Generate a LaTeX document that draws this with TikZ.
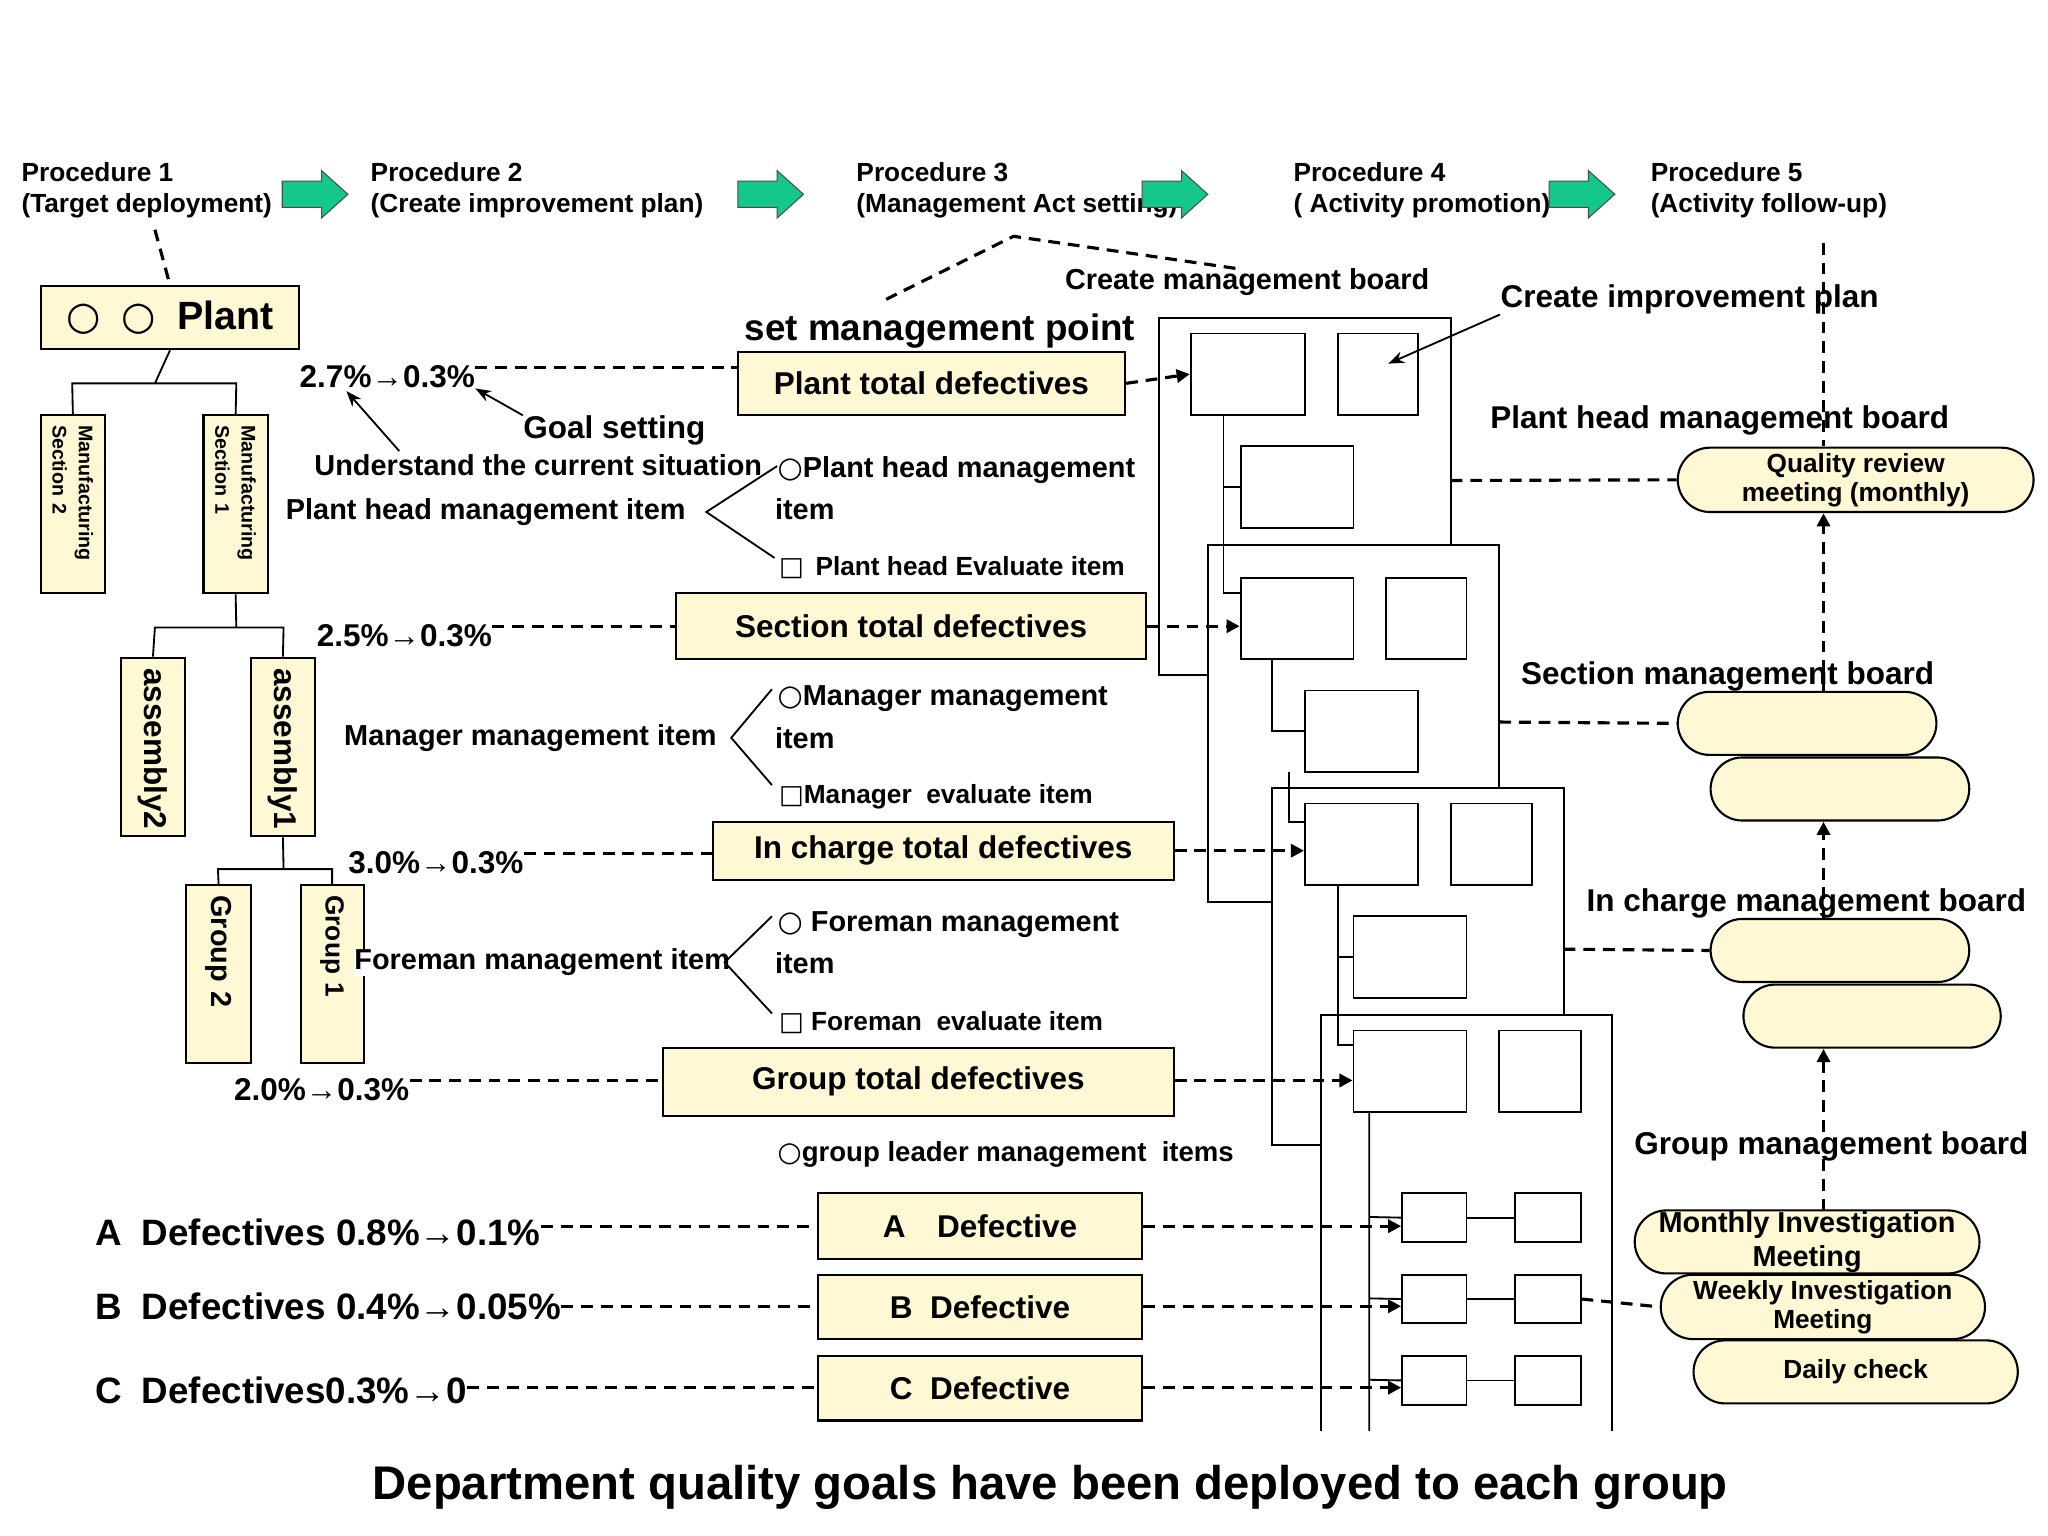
\documentclass[tikz,border=0pt]{standalone}
\usepackage{fontspec}
\setmainfont{Liberation Sans}
\newfontfamily\sym{DejaVu Sans}
\usetikzlibrary{arrows.meta,shapes.misc,calc}
\newcommand\bx[7]{\node[#6,minimum width={(#4-#2)*0.5pt},minimum height={(#5-#3)*0.5pt}] (#1) at ({(#2+#4)/2},{(#3+#5)/2}) {#7};}
\newcommand\bxr[7]{\node[#6,rotate=-90,minimum height={(#4-#2)*0.5pt},minimum width={(#5-#3)*0.5pt},text width={(#5-#3)*0.5pt-8pt}] (#1) at ({(#2+#4)/2},{(#3+#5)/2}) {#7};}
\newcommand\ci{{\sym\char"25CB}}
\newcommand\sq{{\sym\char"25A1}}
\definecolor{cream}{RGB}{255,248,212}
\definecolor{grn}{RGB}{20,200,140}
\tikzset{
 box/.style={draw,line width=0.8pt,fill=cream,inner sep=0pt,font=\bfseries\fontsize{12}{14}\selectfont},
 wb/.style={draw,line width=0.7pt,fill=white,inner sep=0pt},
 rb/.style={draw,line width=0.8pt,fill=cream,rounded rectangle,inner sep=0pt,align=center,font=\bfseries\fontsize{10}{11}\selectfont},
 txt/.style={inner sep=0pt,font=\bfseries\fontsize{11}{13}\selectfont,align=left},
 dsh/.style={dashed,dash pattern=on 4.5pt off 3pt,line width=1.2pt},
 arr/.style={-{Triangle[length=5pt,width=5pt]}},
 ln/.style={line width=0.7pt},
 garrow/.style={fill=grn,draw=black!70,line width=0.4pt}
}
\begin{document}
\begin{tikzpicture}[x=0.5pt,y=-0.5pt]
\useasboundingbox (0,0) rectangle (1560,1170);
% procedures
\foreach \x/\a/\b in {16/Procedure 1/(Target deployment),282/Procedure 2/(Create improvement plan),652/Procedure 3/(Management Act setting),985/Procedure 4/( Activity promotion),1257/Procedure 5/(Activity follow-up)}{
 \node[anchor=west,inner sep=0pt,font=\bfseries\fontsize{10}{12}\selectfont] at (\x,131) {\a};
 \node[anchor=west,inner sep=0pt,font=\bfseries\fontsize{10}{12}\selectfont] at (\x,157) {\b};}
\foreach \x in {215,562,870,1180}{
 \draw[garrow] (\x,138) -- (\x+30,138) -- (\x+30,130) -- (\x+50,148) -- (\x+30,166) -- (\x+30,158) -- (\x,158) -- cycle;}
% tree
\bx{plant}{31}{218}{228}{266}{box,font=\bfseries\fontsize{15}{17}\selectfont}{{\sym\char"25CB}\hspace{8pt}{\sym\char"25CB}\hspace{8pt}Plant}
\coordinate (pt) at (118,175);
\draw[dsh] (pt) -- (plant.north);
\bxr{s2}{31}{316}{80}{452}{box,font=\bfseries\fontsize{7.5}{10}\selectfont,align=left}{Manufacturing\\Section 2}
\bxr{s1}{155}{316}{204}{452}{box,font=\bfseries\fontsize{7.5}{10}\selectfont,align=left}{Manufacturing\\Section 1}
\draw[ln] (plant.south) -- (118,292) (s2.west) -- (55,292) -- (180,292) -- (s1.west);
\bxr{a2}{92}{501}{141}{637}{box,font=\bfseries\fontsize{12}{14}\selectfont,align=left}{assembly2}
\bxr{a1}{191}{501}{240}{637}{box,font=\bfseries\fontsize{12}{14}\selectfont,align=left}{assembly1}
\draw[ln] (s1.east) -- (180,478) (a2.west) -- (118,478) -- (216,478) -- (a1.west);
\bxr{g2}{142}{674}{191}{810}{box,font=\bfseries\fontsize{11}{14}\selectfont,align=left}{Group 2}
\bxr{g1}{229}{674}{277}{810}{box,font=\bfseries\fontsize{10}{14}\selectfont,align=left}{Group 1}
\draw[ln] (a1.east) -- (216,662) (g2.west) -- (166,662) -- (253,662) -- (g1.west);
% left texts
\tikzset{pc/.style={inner sep=0pt,font=\bfseries\fontsize{12}{14}\selectfont}}
\node[pc] (p1) at (295,287) {2.7\%→0.3\%};
\node[pc] (p2) at (308,484) {2.5\%→0.3\%};
\node[pc] (p3) at (332,657) {3.0\%→0.3\%};
\node[pc] (p4) at (245,830) {2.0\%→0.3\%};
\node[txt,font=\bfseries\fontsize{12}{14}\selectfont] (goal) at (468,328) {Goal setting};
\node[txt] (und) at (410,354) {Understand the current situation};
\draw[ln,-{Stealth[length=6pt]}] (goal.north west) -- (p1.south east);
\draw[ln,-{Stealth[length=6pt]}] ($(und.north west)+(65,-2)$) -- ($(p1.south west)+(36,2)$);
\node[txt] (phi) at (370,390) {Plant head management item};
\node[txt] (mmi) at (404,562) {Manager management item};
\node[txt,fill=white] (fmi) at (413,733) {Foreman management item};
\node[txt,anchor=west] (c1) at (592,358) {\ci Plant head management};
\node[txt,anchor=west] at (590,388) {item};
\node[txt,anchor=west,font=\bfseries\fontsize{10}{12}\selectfont] (e1) at (593,432) {\sq\, Plant head Evaluate item};
\node[txt,anchor=west] (c2) at (592,532) {\ci Manager management};
\node[txt,anchor=west] at (590,562) {item};
\node[txt,anchor=west,font=\bfseries\fontsize{10}{12}\selectfont] (e2) at (593,607) {\sq Manager\ \ evaluate item};
\node[txt,anchor=west] (c3) at (592,704) {\ci\ Foreman management};
\node[txt,anchor=west] at (590,734) {item};
\node[txt,anchor=west,font=\bfseries\fontsize{10}{12}\selectfont] (e3) at (593,779) {\sq\ Foreman\ \ evaluate item};
\node[txt,anchor=west,font=\bfseries\fontsize{10.5}{12}\selectfont] (c4) at (592,879) {\ci group leader management\ \ items};
\draw[ln] (592,355) -- (538,390) -- (590,425);
\draw[ln] (588,525) -- (557,562) -- (588,598);
\draw[ln] (588,698) -- (552,733) -- (588,772);
% center boxes
\bx{ptd}{562}{268}{857}{316}{box}{Plant total defectives}
\bx{std}{515}{452}{873}{502}{box}{Section total defectives}
\bx{ctd}{543}{626}{894}{670}{box}{In charge total defectives}
\bx{gtd}{505}{798}{894}{850}{box}{Group total defectives}
\bx{ad}{623}{909}{870}{959}{box}{A\quad Defective}
\bx{bd}{623}{971}{870}{1020}{box}{B\ \ Defective}
\bx{cd}{623}{1033}{870}{1082}{box}{C\ \ Defective}
\node[txt,font=\bfseries\fontsize{14}{16}\selectfont] (smp) at (716,252) {set management point};
\node[txt] (cmb) at (950,215) {Create management board};
\draw[dsh] (675,228) -- (772,180) -- (945,205);
\node[txt,font=\bfseries\fontsize{14}{16}\selectfont,anchor=west] (la) at (72,939) {A\ \ Defectives 0.8\%→0.1\%};
\node[txt,font=\bfseries\fontsize{14}{16}\selectfont,anchor=west] (lb) at (72,995) {B\ \ Defectives 0.4\%→0.05\%};
\node[txt,font=\bfseries\fontsize{14}{16}\selectfont,anchor=west] (lc) at (72,1059) {C\ \ Defectives0.3\%→0};
% boards
\draw[wb] (883,242) rectangle (1105,514);
\bx{b1a}{907}{254}{994}{316}{wb}{}
\bx{b1b}{1019}{254}{1080}{316}{wb}{}
\bx{b1c}{945}{340}{1031}{402}{wb}{}
\draw[wb] (920,415) rectangle (1142,687);
\bx{b2a}{945}{440}{1031}{502}{wb}{}
\bx{b2b}{1056}{440}{1117}{502}{wb}{}
\bx{b2c}{994}{526}{1080}{588}{wb}{}
\draw[ln] (932,316) -- (932,452) -- (945,452) (932,371) -- (945,371);
\draw[wb] (969,600) rectangle (1191,872);
\bx{b3a}{994}{612}{1080}{674}{wb}{}
\bx{b3b}{1105}{612}{1167}{674}{wb}{}
\bx{b3c}{1031}{698}{1117}{760}{wb}{}
\draw[ln] (969,502) -- (969,557) -- (994,557) (982,588) -- (982,626) -- (994,626);
\fill[white] (1006,773) rectangle (1228,1090);
\draw[ln] (1006,1090) -- (1006,773) -- (1228,773) -- (1228,1090);
\bx{b4a}{1031}{785}{1117}{847}{wb}{}
\bx{b4b}{1142}{785}{1204}{847}{wb}{}
\draw[ln] (1019,674) -- (1019,796) -- (1031,796) (1019,729) -- (1031,729);
\bx{r1a}{1068}{909}{1117}{946}{wb}{}
\bx{r1b}{1154}{909}{1204}{946}{wb}{}
\bx{r2a}{1068}{971}{1117}{1008}{wb}{}
\bx{r2b}{1154}{971}{1204}{1008}{wb}{}
\bx{r3a}{1068}{1033}{1117}{1070}{wb}{}
\bx{r3b}{1154}{1033}{1204}{1070}{wb}{}
\draw[ln] (r1a.east) -- (r1b.west) (r2a.east) -- (r2b.west) (r3a.east) -- (r3b.west);
\draw[ln] (1043,847) -- (1043,1090) (1043,927) -- (r1a.west) (1043,989) -- (r2a.west) (1043,1051) -- (r3a.west);
% dashed connectors
\draw[dsh] (p1.east |- 0,280) -- (ptd.west |- 0,280);
\draw[dsh,arr] (ptd.east) -- (b1a.west);
\draw[dsh] (p2.east |- 0,477) -- (std.west |- 0,477);
\draw[dsh,arr] (std.east) -- (b2a.west |- std.east);
\draw[dsh] (p3.east |- 0,650) -- (ctd.west |- 0,650);
\draw[dsh,arr] (ctd.east) -- (b3a.west |- ctd.east);
\draw[dsh] (p4.east |- 0,823) -- (gtd.west |- 0,823);
\draw[dsh,arr] (gtd.east |- 0,823) -- (b4a.west |- 0,823);
\draw[dsh] (la.east |- 0,934) -- (ad.west |- 0,934);
\draw[dsh,arr] (ad.east |- 0,934) -- (r1a.west |- 0,934);
\draw[dsh] (lb.east |- 0,995) -- (bd.west |- 0,995);
\draw[dsh,arr] (bd.east |- 0,995) -- (r2a.west |- 0,995);
\draw[dsh] (lc.east |- 0,1057) -- (cd.west |- 0,1057);
\draw[dsh,arr] (cd.east |- 0,1057) -- (r3a.west |- 0,1057);
% right column
\bx{q}{1278}{341}{1549}{390}{rb}{Quality review\\meeting (monthly)}
\bx{s1r}{1278}{527}{1475}{575}{rb}{}
\bx{s2r}{1303}{577}{1500}{625}{rb}{}
\bx{i1r}{1303}{700}{1500}{748}{rb}{}
\bx{i2r}{1328}{750}{1524}{798}{rb}{}
\bx{m1}{1253}{922}{1500}{970}{rb,font=\bfseries\fontsize{11}{13}\selectfont}{Monthly Investigation\\Meeting}
\bx{m2}{1265}{971}{1512}{1020}{rb}{Weekly Investigation\\Meeting}
\bx{m3}{1290}{1021}{1537}{1069}{rb}{Daily check}
\node[txt,font=\bfseries\fontsize{12}{14}\selectfont] (l1) at (1310,320) {Plant head management board};
\node[txt,font=\bfseries\fontsize{12}{14}\selectfont] (l2) at (1316,515) {Section management board};
\node[txt,font=\bfseries\fontsize{12}{14}\selectfont] (l3) at (1376,688) {In charge management board};
\node[txt,font=\bfseries\fontsize{12}{14}\selectfont] (l4) at (1395,873) {Group management board};
\node[txt,font=\bfseries\fontsize{12}{14}\selectfont] (cip) at (1287,228) {Create improvement plan};
\draw[ln,-{Stealth[length=6pt]}] (cip.south west) -- ($(b1b.center)+(8,-8)$);
\coordinate (t5) at (1389,185);
\draw[dsh] (t5) -- (1389,340);
\draw[dsh,arr] (1389,527) -- (1389,391);
\draw[dsh,arr] (1389,700) -- (1389,626);
\draw[dsh,arr] (1389,922) -- (1389,799);
\draw[dsh] (1105,366) -- (q.west);
\draw[dsh] (1142,550) -- (s1r.west);
\draw[dsh] (1191,723) -- (i1r.west);
\draw[dsh] (r2b.east) -- (m2.west);
\node[txt,font=\bfseries\fontsize{18}{20}\selectfont] (title) at (800,1133) {Department quality goals have been deployed to each group};
\end{tikzpicture}
\end{document}
